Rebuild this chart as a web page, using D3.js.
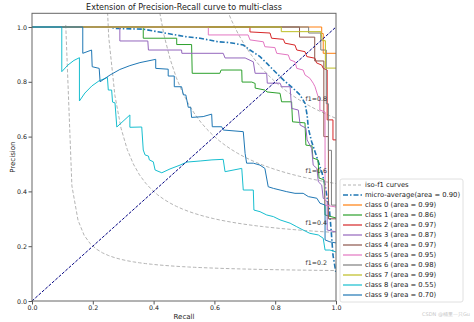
<!DOCTYPE html>
<html><head><meta charset="utf-8">
<script src="https://cdn.jsdelivr.net/npm/d3@7/dist/d3.min.js"></script>
<style>body{margin:0;background:#fff}svg{display:block}text{font-family:"DejaVu Sans",sans-serif}</style>
</head><body><svg id="c" width="474" height="322"></svg>
<script>
// ---- data ----
const f1Scores = [0.2, 0.4, 0.6, 0.8];
const xTicks = [0, 0.2, 0.4, 0.6, 0.8, 1.0];
const yTicks = [0, 0.2, 0.4, 0.6, 0.8, 1.0];
const classNames = ["class 0","class 1","class 2","class 3","class 4","class 5","class 6","class 7","class 8","class 9"];
const classAreas = [0.99, 0.86, 0.97, 0.87, 0.97, 0.95, 0.98, 0.99, 0.55, 0.70];
const microArea = 0.90;

const microPR = [[0,1],[0.257,1],[0.273,0.995],[0.366,0.992],[0.443,0.977],[0.503,0.965],[0.553,0.959],[0.613,0.946],[0.651,0.943],[0.695,0.934],[0.717,0.916],[0.750,0.892],[0.772,0.868],[0.794,0.843],[0.827,0.807],[0.865,0.770],[0.882,0.752],[0.898,0.722],[0.905,0.679],[0.909,0.630],[0.920,0.581],[0.931,0.545],[0.942,0.508],[0.953,0.472],[0.964,0.423],[0.971,0.375],[0.978,0.338],[0.984,0.259],[0.990,0.168],[1.0,0.102]];
const class0PR = [[0,1],[0.953,1],[0.953,0.976],[0.958,0.976],[0.958,0.904],[1.0,0.904]];
const class1PR = [[0,1],[0.366,1],[0.366,0.959],[0.476,0.959],[0.476,0.936],[0.525,0.936],[0.527,0.831],[0.618,0.831],[0.622,0.843],[0.690,0.843],[0.691,0.799],[0.723,0.799],[0.734,0.794],[0.734,0.777],[0.766,0.770],[0.773,0.763],[0.816,0.758],[0.821,0.727],[0.854,0.727],[0.857,0.654],[0.898,0.650],[0.901,0.569],[0.921,0.566],[0.924,0.522],[0.941,0.515],[0.944,0.449],[0.961,0.442],[0.964,0.314],[1.0,0.303]];
const class2PR = [[0,1],[0.717,1],[0.717,0.982],[0.783,0.978],[0.788,0.959],[0.827,0.955],[0.832,0.941],[0.865,0.934],[0.871,0.916],[0.898,0.910],[0.904,0.892],[0.931,0.886],[0.936,0.869],[0.953,0.861],[0.958,0.849],[0.971,0.843],[0.971,0.661],[0.990,0.661],[0.990,0.588],[1.0,0.588]];
const class3PR = [[0,1],[0.289,1],[0.289,0.949],[0.381,0.949],[0.383,0.916],[0.492,0.916],[0.493,0.904],[0.629,0.904],[0.635,0.887],[0.701,0.887],[0.728,0.873],[0.734,0.831],[0.772,0.831],[0.774,0.795],[0.816,0.795],[0.821,0.782],[0.849,0.782],[0.854,0.703],[0.876,0.697],[0.882,0.642],[0.901,0.631],[0.905,0.588],[0.920,0.557],[0.925,0.496],[0.937,0.484],[0.942,0.435],[0.953,0.423],[0.958,0.375],[0.971,0.362],[0.971,0.259],[1.0,0.252]];
const class4PR = [[0,1],[0.88,1],[0.88,0.963],[0.93,0.963],[0.93,0.876],[0.96,0.876],[0.96,0.60],[0.975,0.60],[0.975,0.30],[1.0,0.30]];
const class5PR = [[0,1],[0.580,1],[0.580,0.971],[0.711,0.971],[0.717,0.953],[0.761,0.946],[0.766,0.928],[0.799,0.925],[0.805,0.904],[0.843,0.898],[0.849,0.880],[0.865,0.873],[0.871,0.849],[0.892,0.843],[0.898,0.825],[0.914,0.813],[0.925,0.795],[0.931,0.782],[0.941,0.746],[0.947,0.741],[0.947,0.697],[0.964,0.690],[0.964,0.350],[1.0,0.343]];
const class6PR = [[0,1],[0.91,1],[0.91,0.978],[0.95,0.978],[0.95,0.916],[0.968,0.916],[0.968,0.72],[0.975,0.72],[0.975,0.55],[0.985,0.55],[0.985,0.35],[1.0,0.35]];
const class7PR = [[0,1],[0.82,1],[0.82,0.983],[0.95,0.983],[0.955,0.95],[0.965,0.95],[0.965,0.85],[1.0,0.85]];
const class8PR = [[0,1],[0.098,1],[0.098,0.837],[0.118,0.861],[0.138,0.878],[0.156,0.888],[0.156,0.730],[0.174,0.759],[0.197,0.785],[0.220,0.803],[0.248,0.816],[0.251,0.770],[0.262,0.770],[0.265,0.726],[0.273,0.723],[0.279,0.635],[0.322,0.679],[0.322,0.634],[0.361,0.635],[0.366,0.551],[0.372,0.533],[0.383,0.529],[0.386,0.515],[0.399,0.508],[0.405,0.478],[0.427,0.468],[0.454,0.482],[0.487,0.496],[0.509,0.507],[0.553,0.511],[0.592,0.515],[0.629,0.517],[0.635,0.472],[0.690,0.484],[0.695,0.405],[0.728,0.405],[0.730,0.332],[0.750,0.326],[0.772,0.314],[0.794,0.308],[0.816,0.296],[0.849,0.284],[0.871,0.271],[0.892,0.259],[0.914,0.247],[0.942,0.241],[0.958,0.229],[0.964,0.186],[0.980,0.186],[1.0,0.179]];
const class9PR = [[0,1],[0.167,1],[0.167,0.904],[0.196,0.916],[0.198,0.855],[0.221,0.849],[0.224,0.800],[0.257,0.825],[0.289,0.845],[0.322,0.859],[0.355,0.870],[0.407,0.882],[0.407,0.849],[0.448,0.846],[0.448,0.821],[0.468,0.821],[0.468,0.782],[0.492,0.782],[0.498,0.752],[0.506,0.752],[0.514,0.707],[0.522,0.707],[0.525,0.670],[0.563,0.673],[0.591,0.682],[0.593,0.636],[0.624,0.636],[0.629,0.624],[0.695,0.618],[0.701,0.539],[0.706,0.503],[0.728,0.503],[0.750,0.496],[0.766,0.484],[0.777,0.417],[0.794,0.411],[0.816,0.405],[0.838,0.399],[0.865,0.393],[0.892,0.393],[0.909,0.381],[0.937,0.375],[0.947,0.357],[0.964,0.350],[0.964,0.223],[0.980,0.216],[1.0,0.212]];
const classCurves = [class0PR,class1PR,class2PR,class3PR,class4PR,class5PR,class6PR,class7PR,class8PR,class9PR];
const classColors = ["#ff7f0e","#2ca02c","#d62728","#9467bd","#8c564b","#e377c2","#7f7f7f","#bcbd22","#17becf","#1f77b4"];
const microColor = "#1f77b4";

// ---- layout ----
const svg = d3.select("#c");
const L = 32, R = 336, T = 13.3, B = 301;
const x = d3.scaleLinear().domain([0, 1]).range([L, R]);
const y = d3.scaleLinear().domain([0, 1.05]).range([B, T]);
const line = d3.line().x(d => x(d[0])).y(d => y(d[1]));

svg.append("defs").append("clipPath").attr("id", "clip")
  .append("rect").attr("x", L).attr("y", T).attr("width", R - L).attr("height", B - T);
const plot = svg.append("g").attr("clip-path", "url(#clip)");

// iso-f1 curves
const xs = d3.range(50).map(i => 0.01 + i * (0.99 / 49));
f1Scores.forEach(f => {
  const pts = xs.map(v => [v, f * v / (2 * v - f)]).filter(d => d[1] >= 0);
  plot.append("path").attr("d", line(pts)).attr("fill", "none")
    .attr("stroke", "#b4b4b4").attr("stroke-width", 1).attr("stroke-dasharray", "3.5,2");
  const p45 = pts.length ? (f * xs[45] / (2 * xs[45] - f)) : 0;
  svg.append("text").attr("x", x(0.9)).attr("y", y(p45 + 0.02))
    .attr("font-size", 6.3).attr("fill", "#333").text("f1=" + f.toFixed(1));
});

// micro
plot.append("path").attr("d", line(microPR)).attr("fill", "none")
  .attr("stroke", microColor).attr("stroke-width", 1.6).attr("stroke-dasharray", "5,2,1.5,2");
// classes
classCurves.forEach((c, i) => {
  plot.append("path").attr("d", line(c)).attr("fill", "none")
    .attr("stroke", classColors[i]).attr("stroke-width", 1);
});
// diagonal
plot.append("path").attr("d", line([[0, 0], [1, 1]])).attr("fill", "none")
  .attr("stroke", "navy").attr("stroke-width", 1).attr("stroke-dasharray", "3,1.5");

// axes
const ax = svg.append("g").attr("transform", `translate(0,${B})`)
  .call(d3.axisBottom(x).tickValues(xTicks).tickFormat(d3.format(".1f")).tickSize(3.5).tickPadding(1.5));
const ay = svg.append("g").attr("transform", `translate(${L},0)`)
  .call(d3.axisLeft(y).tickValues(yTicks).tickFormat(d3.format(".1f")).tickSize(3.5).tickPadding(1.5));
[ax, ay].forEach(g => {
  g.select(".domain").remove();
  g.selectAll("line").attr("stroke", "#555");
  g.selectAll("text").attr("font-size", 6.3).attr("fill", "#222").attr("font-family", "DejaVu Sans");
});
svg.append("rect").attr("x", L).attr("y", T).attr("width", R - L).attr("height", B - T)
  .attr("fill", "none").attr("stroke", "#666").attr("stroke-width", 1);

// labels
svg.append("text").attr("x", (L + R) / 2).attr("y", 10).attr("text-anchor", "middle")
  .attr("font-size", 8).attr("fill", "#222").text("Extension of Precision-Recall curve to multi-class");
svg.append("text").attr("x", (L + R) / 2).attr("y", 319).attr("text-anchor", "middle")
  .attr("font-size", 7).attr("fill", "#222").text("Recall");
svg.append("text").attr("transform", `translate(15,${(T + B) / 2}) rotate(-90)`).attr("text-anchor", "middle")
  .attr("font-size", 7).attr("fill", "#222").text("Precision");

// legend
const lg = svg.append("g");
lg.append("rect").attr("x", 340).attr("y", 179).attr("width", 123).attr("height", 123).attr("rx", 2)
  .attr("fill", "#fff").attr("stroke", "#d8d8d8").attr("stroke-width", 0.8);
const entries = [{label: "iso-f1 curves", color: "#b4b4b4", dash: "3,2", w: 1},
  {label: `micro-average(area = ${microArea.toFixed(2)})`, color: microColor, dash: "5,2,1.5,2", w: 1.6}]
  .concat(classNames.map((n, i) => ({label: `${n} (area = ${classAreas[i].toFixed(2)})`, color: classColors[i], dash: null, w: 1.2})));
entries.forEach((e, i) => {
  const yy = 185 + i * 10;
  lg.append("line").attr("x1", 343).attr("x2", 362).attr("y1", yy).attr("y2", yy)
    .attr("stroke", e.color).attr("stroke-width", e.w).attr("stroke-dasharray", e.dash);
  lg.append("text").attr("x", 365).attr("y", yy).attr("dy", "0.35em").attr("font-size", 6.8)
    .attr("fill", "#222").text(e.label);
});
svg.append("text").attr("x", 470).attr("y", 316).attr("text-anchor", "end")
  .attr("font-size", 5).attr("fill", "#c8c8c8").text("CSDN @桶里一只Gu");
</script></body></html>
